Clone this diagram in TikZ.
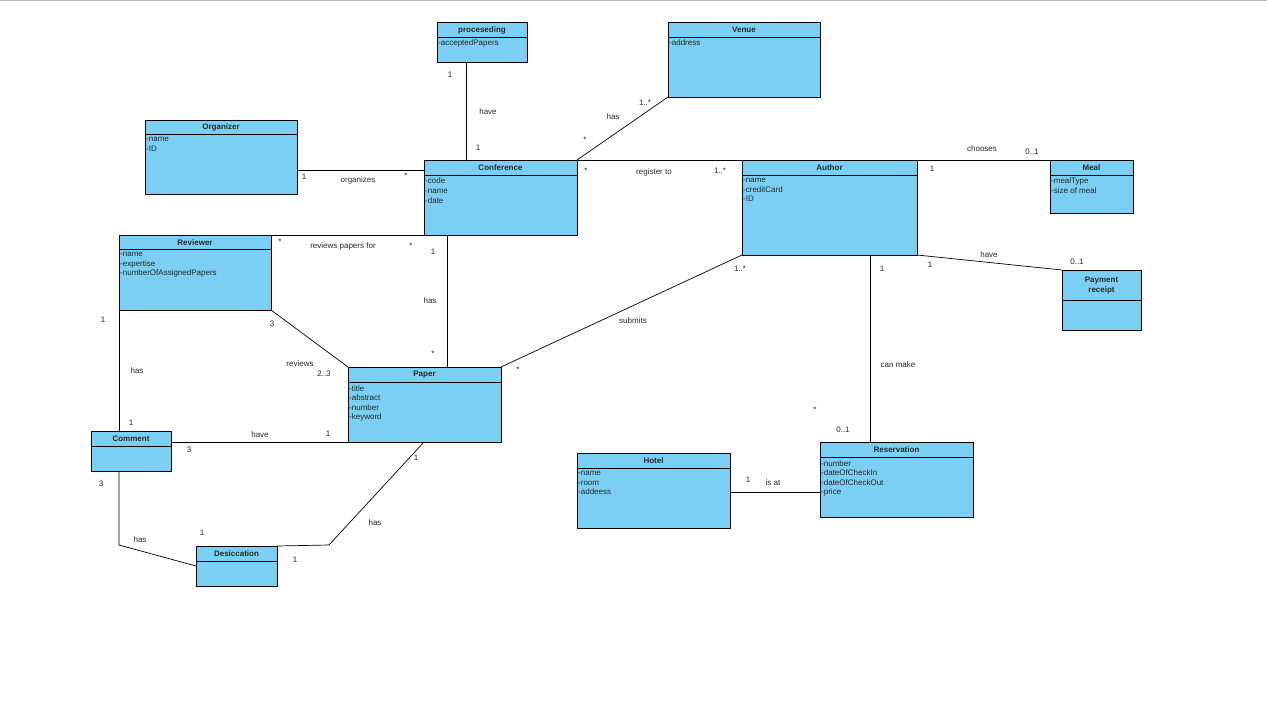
\documentclass[tikz,border=0pt]{standalone}
\usepackage{fontspec}
\setmainfont{Liberation Sans}
\definecolor{cls}{RGB}{122,207,243}
\definecolor{txt}{RGB}{40,40,40}
\begin{document}
\begin{tikzpicture}[x=1pt,y=-1pt,font=\fontsize{8}{9.6}\selectfont,text=txt,
  lbl/.style={inner sep=0pt,anchor=center},
  cl/.style={draw=black,line width=0.8pt,fill=cls},
  ln/.style={line width=0.7pt}]
\useasboundingbox (0,0) rectangle (1267,701);
\draw[gray!60] (0,0.5)--(1267,0.5);
% class macro: name, left, top, right, bottom, headerbottom, title, attrs
\newcommand\umlcls[8]{%
  \fill[cls] (#2,#3) rectangle (#4,#5);
  \draw[line width=0.8pt] (#2,#3) rectangle (#4,#5);
  \draw[line width=0.8pt] (#2,#6)--(#4,#6);
  \node[inner sep=0pt,font=\fontsize{8}{9.6}\selectfont\bfseries,align=center] at ({(#2+#4)/2},{(#3+#6)/2+0.5}) {#7};
  \node[inner sep=0pt,anchor=north west,align=left] at (#2+1,#6+3) {#8};
  \coordinate (#1) at ({(#2+#4)/2},{(#3+#5)/2});}
\umlcls{proc}{437}{22}{527}{62}{37}{proceseding}{-acceptedPapers}
\umlcls{venue}{668}{22}{820}{97}{37}{Venue}{-address}
\umlcls{org}{145}{120}{297}{194}{134}{Organizer}{-name\\-ID}
\umlcls{conf}{424}{160}{577}{235}{175}{Conference}{-code\\-name\\-date}
\umlcls{author}{742}{160}{917}{255}{175}{Author}{-name\\-creditCard\\-ID}
\umlcls{meal}{1050}{160}{1133}{213}{175}{Meal}{-mealType\\-size of meal}
\umlcls{rev}{119}{235}{271}{310}{249}{Reviewer}{-name\\-expertise\\-numberOfAssignedPapers}
\umlcls{pay}{1062}{270}{1141}{330}{300}{Payment\\receipt}{}
\umlcls{paper}{348}{367}{501}{442}{382}{Paper}{-title\\-abstract\\-number\\-keyword}
\umlcls{com}{91}{431}{171}{471}{446}{Comment}{}
\umlcls{hotel}{577}{453}{730}{528}{468}{Hotel}{-name\\-room\\-addeess}
\umlcls{res}{820}{442}{973}{517}{457}{Reservation}{-number\\-dateOfCheckIn\\-dateOfCheckOut\\-price}
\umlcls{des}{196}{546}{277}{586}{561}{Desiccation}{}
% connectors
\draw[ln] (proc.center |- 0,62) ++(29,0) coordinate (a1) (466,62) coordinate (p1) -- (466,160) coordinate (p2);
\coordinate (v1) at (668,97); \coordinate (v2) at (577,160);
\draw[ln] (v1)--(v2);
\coordinate (o1) at (297,170); \coordinate (o2) at (424,170);
\draw[ln] (o1)--(o2);
\coordinate (c1) at (577,160); \coordinate (c2) at (742,160);
\draw[ln] (c1)--(c2);
\coordinate (m1) at (917,160); \coordinate (m2) at (1050,160);
\draw[ln] (m1)--(m2);
\coordinate (r1) at (271,235); \coordinate (r2) at (424,235);
\draw[ln] (r1)--(r2);
\coordinate (cp1) at (447,235); \coordinate (cp2) at (447,367);
\draw[ln] (cp1)--(cp2);
\coordinate (ap1) at (742,255); \coordinate (ap2) at (501,367);
\draw[ln] (ap1)--(ap2);
\coordinate (py1) at (917,255); \coordinate (py2) at (1062,270);
\draw[ln] (py1)--(py2);
\coordinate (ar1) at (870,255); \coordinate (ar2) at (870,442);
\draw[ln] (ar1)--(ar2);
\coordinate (hr1) at (730,492); \coordinate (hr2) at (820,492);
\draw[ln] (hr1)--(hr2);
\coordinate (rp1) at (271,310); \coordinate (rp2) at (348,367);
\draw[ln] (rp1)--(rp2);
\coordinate (rc1) at (119,310); \coordinate (rc2) at (119,431);
\draw[ln] (rc1)--(rc2);
\coordinate (cpp1) at (171,442); \coordinate (cpp2) at (348,442);
\draw[ln] (cpp1)--(cpp2);
\coordinate (cd1) at (119,471); \coordinate (cd2) at (196,566);
\draw[ln] (cd1)--(119,545)--(cd2);
\coordinate (pd1) at (424,442); \coordinate (pd2) at (277,546);
\draw[ln] (pd1)--(329,545)--(pd2);
% labels
\foreach \x/\y/\t in {450/75/1,488/112/have,478/148/1,
 645/103/1..*,613/117/has,585/140/*,
 304/177/1,358/180/organizes,406/176/*,
 586/171/*,654/172/register to,720/171/1..*,
 982/149/chooses,1032/152/0..1,932/169/1,
 280/242/*,343/246/reviews papers for,411/246/*,
 433/252/1,430/301/has,433/354/*,
 740/269/1..*,633/321/submits,518/370/*,
 930/265/1,989/255/have,1077/262/0..1,
 882/269/1,898/365/can make,815/410/*,843/430/0..1,
 748/480/1,773/483/is at,
 272/324/3,300/364/reviews,324/374/2..3,
 103/320/1,137/371/has,131/423/1,
 260/435/have,328/434/1,189/450/3,
 101/484/3,140/540/has,
 416/458/1,375/523/has,202/533/1,295/560/1}
 \node[lbl] at (\x,\y) {\t};
\end{tikzpicture}
\end{document}
